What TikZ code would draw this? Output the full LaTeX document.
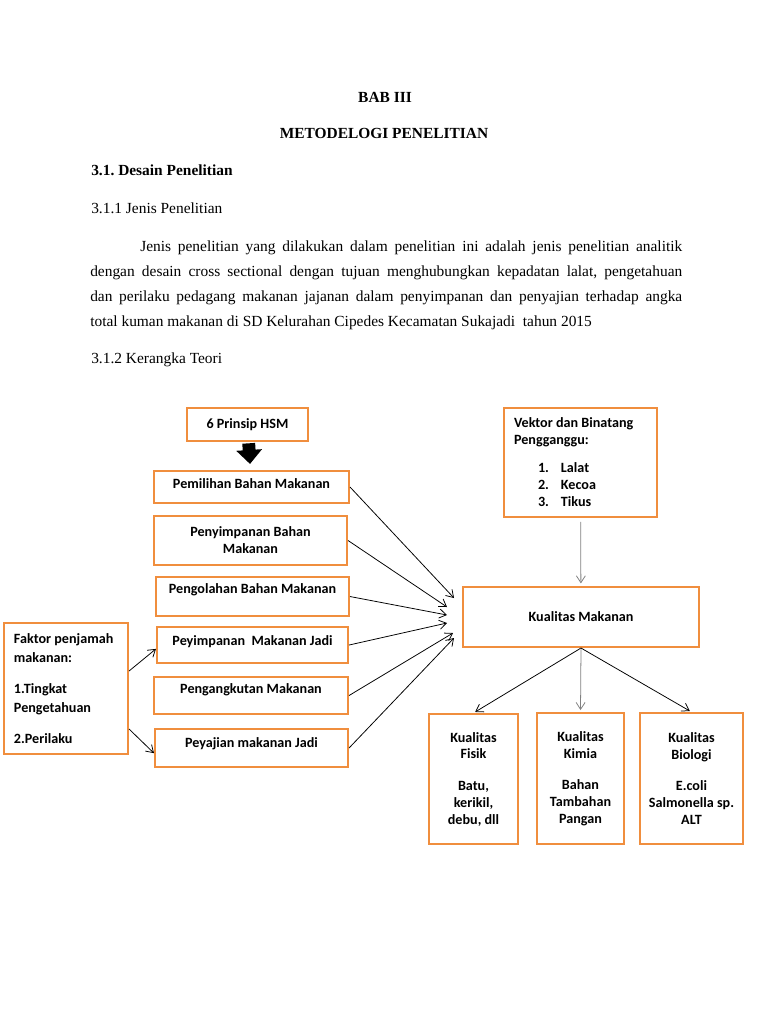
\documentclass[tikz,border=0pt]{standalone}
\usepackage{fontspec}
\setmainfont{Liberation Serif}
\newfontfamily\calibri{Carlito}
\usetikzlibrary{arrows.meta}
\usetikzlibrary{positioning}
\newlength\pxu
\setlength\pxu{0.02734cm}
\definecolor{hsmorange}{RGB}{240,142,62}
\frenchspacing

\begin{document}
\begin{tikzpicture}[
      x=0.02734cm, y=-0.02734cm,
      box/.style ={draw=hsmorange, line width=1.6pt, align=center, inner sep=0pt,
                   font=\calibri\bfseries\fontsize{11}{13.2}\selectfont},
      topbox/.style ={box, anchor=north, inner ysep=0pt},
      line/.style ={-{Straight Barb[length=5.4pt,width=7pt]}, line width=0.6pt},
      heavy/.style ={-{Triangle[length=10.9pt,width=19.4pt]}, line width=10pt},
      body/.style ={inner sep=0pt, font=\fontsize{12}{19.4}\selectfont},
      head/.style ={inner sep=0pt, font=\bfseries\fontsize{12}{14}\selectfont}
    ]
    \useasboundingbox [fill=white] (0,0) rectangle (768,1024);

    % page text
    \node [head, anchor=base] (bab) at (385,102) {BAB III};
    \node [head, anchor=base] (judul) at (384,138) {METODELOGI PENELITIAN};
    \node [head, anchor=base west] (desain) at (91,175) {3.1. Desain Penelitian};
    \node [body, anchor=base west] (jenis) at (91,213) {3.1.1 Jenis Penelitian};
    \node [body, anchor=north west, text width=592*\pxu, align=justify] (para) at (90,240.5)
      {\hspace*{50\pxu}Jenis penelitian yang dilakukan dalam penelitian ini adalah jenis penelitian analitik\linebreak
       dengan desain cross sectional dengan tujuan menghubungkan kepadatan lalat, pengetahuan\linebreak
       dan perilaku pedagang makanan jajanan dalam penyimpanan dan penyajian terhadap angka\linebreak
       total kuman makanan di SD Kelurahan Cipedes Kecamatan Sukajadi\ \ tahun 2015};
    \node [body, anchor=base west] (teori) at (91,363) {3.1.2 Kerangka Teori};

    % left column
    \node [box, minimum width=121*\pxu, minimum height=33*\pxu] (hsm) at (247.5,424.5) {6 Prinsip HSM};
    \node [topbox, minimum width=195*\pxu, text height=17*\pxu, text depth=15*\pxu] (pilih) at (251.5,470) {Pemilihan Bahan Makanan};
    \node [box, minimum width=193*\pxu, minimum height=49*\pxu] (simpan) at (250.5,540.5) {Penyimpanan Bahan\\Makanan};
    \node [topbox, minimum width=193*\pxu, text height=16*\pxu, text depth=23*\pxu] (olah) at (252.5,576) {Pengolahan Bahan Makanan};
    \node [topbox, minimum width=191*\pxu, text height=18*\pxu, text depth=18*\pxu] (jadi) at (252.5,626) {Peyimpanan\ \ Makanan Jadi};
    \node [topbox, minimum width=194*\pxu, text height=16*\pxu, text depth=21*\pxu] (angkut) at (251,676) {Pengangkutan Makanan};
    \node [topbox, minimum width=193*\pxu, text height=18*\pxu, text depth=20*\pxu] (saji) at (251.5,728) {Peyajian makanan Jadi};

    \node [box, align=flush left, text width=104*\pxu, inner xsep=10*\pxu, minimum height=131*\pxu,
           font=\calibri\bfseries\fontsize{11}{14.8}\selectfont] (faktor) at (66,688.5)
      {Faktor penjamah\\makanan:\\[9pt]1.Tingkat\\Pengetahuan\\[9pt]2.Perilaku};

    % right column
    \node [box, align=flush left, text width=133*\pxu, inner xsep=10*\pxu, minimum height=109*\pxu] (vektor) at (580.5,462.5)
      {Vektor dan Binatang\\Pengganggu:\\[8.6pt]
       \hspace*{24\pxu}\makebox[23\pxu][l]{1.}Lalat\\
       \hspace*{24\pxu}\makebox[23\pxu][l]{2.}Kecoa\\
       \hspace*{24\pxu}\makebox[23\pxu][l]{3.}Tikus};
    \node [box, minimum width=236*\pxu, minimum height=60*\pxu] (makanan) at (581,617) {Kualitas Makanan};

    \node [box, minimum width=89*\pxu, minimum height=130*\pxu] (fisik) at (473.5,779)
      {Kualitas\\Fisik\\[11pt]Batu,\\kerikil,\\debu, dll};
    \node [box, minimum width=87*\pxu, minimum height=131*\pxu] (kimia) at (580.5,778.5)
      {Kualitas\\Kimia\\[11pt]Bahan\\Tambahan\\Pangan};
    \node [box, minimum width=103*\pxu, minimum height=131*\pxu] (biologi) at (691.5,778.5)
      {Kualitas\\Biologi\\[11pt]E.coli\\Salmonella sp.\\ALT};

    % arrow heads near Kualitas Makanan
    \coordinate (tip1) at (454,598);
    \coordinate (tip2) at (447,607);
    \coordinate (tip3) at (447,615);
    \coordinate (tip4) at (447,623);
    \coordinate (tip5) at (453,633);
    \coordinate (tip6) at (454,638);

    \draw [heavy, shorten <=1pt, shorten >=4.7pt] (hsm) -- (pilih);

    \draw [line] (pilih.east) -- (tip1);
    \draw [line] (simpan.east) -- (tip2);
    \draw [line] (olah.east) -- (tip3);
    \draw [line] (jadi.east) -- (tip4);
    \draw [line] (angkut.east) -- (tip5);
    \draw [line] (saji.east) -- (tip6);

    \draw [line] ([yshift=13.6pt]faktor.east) -- ([yshift=-3pt]jadi.west);
    \draw [line] ([yshift=-31.5pt]faktor.east) -- ([yshift=-4pt]saji.west);

    \draw [line, gray, shorten <=3pt, shorten >=2pt] (vektor) -- (makanan);
    \draw [line, shorten >=1.5pt] (makanan.south) -- (fisik.north);
    \draw [line, gray, shorten >=1.5pt] (makanan.south) -- (kimia.north);
    \draw [line, shorten >=1.5pt] (makanan.south) -- (biologi.north);
  \end{tikzpicture}
\end{document}
